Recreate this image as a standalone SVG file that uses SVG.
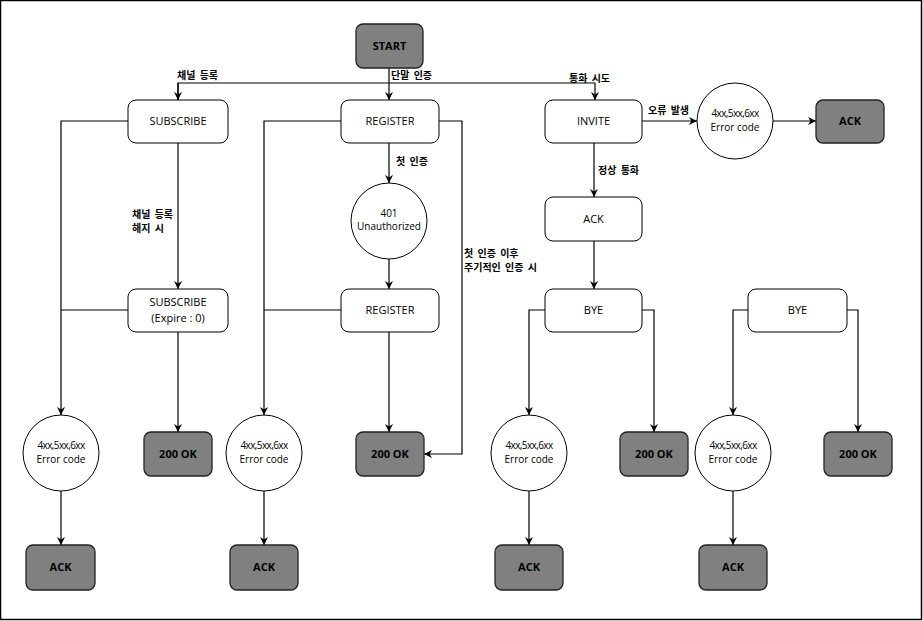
<svg xmlns="http://www.w3.org/2000/svg" width="923" height="621" viewBox="0 0 923 621">
<style>
.w{fill:#fff;stroke:#000;stroke-width:1}
.g{fill:#808080;stroke:#222;stroke-width:1.3}
.c{fill:#fff;stroke:#000;stroke-width:1}
.t{font-family:"Open Sans","Noto Sans","Noto Sans CJK KR",sans-serif;font-size:11px;fill:#000;text-anchor:middle}
.b{font-weight:bold}
.s{font-family:"Open Sans","Noto Sans","Noto Sans CJK KR",sans-serif;font-size:10px;fill:#000;text-anchor:middle}
.k{font-family:"Noto Sans CJK KR","Noto Sans",sans-serif;font-size:10px;font-weight:bold;fill:#000;word-spacing:2px}
.l{fill:none;stroke:#000;stroke-width:1.2}
</style>
<defs>
<marker id="a" viewBox="0 0 10 10" refX="10" refY="5" markerWidth="8" markerHeight="8" markerUnits="userSpaceOnUse" orient="auto">
<path d="M0,0 L10,5 L0,10 L3,5 Z" fill="#000"/>
</marker>
</defs>
<rect x="0.5" y="0.5" width="921" height="619" fill="#fff" stroke="#000" stroke-width="1.5"/>
<g id="connectors">
<path class="l" d="M389,68 V100" marker-end="url(#a)"/>
<path class="l" d="M178,100 V83 H595 V100" marker-end="url(#a)"/>
<path class="l" d="M178,83 V100" marker-end="url(#a)"/>
<path class="l" d="M642,121 H697" marker-end="url(#a)"/>
<path class="l" d="M773,121 H816" marker-end="url(#a)"/>
<path class="l" d="M594,143 V197" marker-end="url(#a)"/>
<path class="l" d="M594,241 V289" marker-end="url(#a)"/>
<path class="l" d="M545,310 H529 V415" marker-end="url(#a)"/>
<path class="l" d="M529,491 V545" marker-end="url(#a)"/>
<path class="l" d="M642,310 H654 V432" marker-end="url(#a)"/>
<path class="l" d="M748,310 H733 V415" marker-end="url(#a)"/>
<path class="l" d="M733,491 V545" marker-end="url(#a)"/>
<path class="l" d="M847,310 H858 V432" marker-end="url(#a)"/>
<path class="l" d="M128,121 H61 V415" marker-end="url(#a)"/>
<path class="l" d="M128,310 H61"/>
<path class="l" d="M61,491 V545" marker-end="url(#a)"/>
<path class="l" d="M178,143 V289" marker-end="url(#a)"/>
<path class="l" d="M178,332 V432" marker-end="url(#a)"/>
<path class="l" d="M341,121 H264 V415" marker-end="url(#a)"/>
<path class="l" d="M341,310 H264"/>
<path class="l" d="M264,491 V545" marker-end="url(#a)"/>
<path class="l" d="M439,121 H462 V454 H424" marker-end="url(#a)"/>
<path class="l" d="M389,143 V183" marker-end="url(#a)"/>
<path class="l" d="M389,259 V289" marker-end="url(#a)"/>
<path class="l" d="M389,332 V432" marker-end="url(#a)"/>
<text class="k" x="177" y="79">채널 등록</text>
<text class="k" x="391" y="79">단말 인증</text>
<text class="k" x="569" y="82">통화 시도</text>
<text class="k" x="648" y="114">오류 발생</text>
<text class="k" x="598" y="174">정상 통화</text>
<text class="k" x="132" y="218">채널 등록</text>
<text class="k" x="132" y="232">해지 시</text>
<text class="k" x="396" y="165">첫 인증</text>
<text class="k" x="464" y="257">첫 인증 이후</text>
<text class="k" x="464" y="271">주기적인 인증 시</text>
</g>
<g id="start"><rect class="g" x="356" y="24" width="67" height="44" rx="7"/><text class="t b" x="389.5" y="50">START</text></g>
<g id="subscribe"><rect class="w" x="128" y="100" width="100" height="43" rx="8"/><text class="t" x="178" y="125">SUBSCRIBE</text></g>
<g id="register"><rect class="w" x="341" y="100" width="98" height="43" rx="8"/><text class="t" x="390" y="125">REGISTER</text></g>
<g id="invite"><rect class="w" x="545" y="100" width="97" height="43" rx="8"/><text class="t" x="593.5" y="125">INVITE</text></g>
<g id="err-invite"><circle class="c" cx="735" cy="121" r="38"/><text class="s" x="735" y="117" letter-spacing="-0.6">4xx,5xx,6xx</text><text class="s" x="735" y="131">Error code</text></g>
<g id="ack-invite"><rect class="g" x="816" y="100" width="68" height="43" rx="7"/><text class="t b" x="850" y="125">ACK</text></g>
<g id="unauth"><circle class="c" cx="389" cy="221" r="38"/><text class="s" x="389" y="217" font-size="9">401</text><text class="s" x="389" y="230" font-size="9">Unauthorized</text></g>
<g id="ack-call"><rect class="w" x="545" y="197" width="97" height="44" rx="8"/><text class="t" x="593.5" y="223">ACK</text></g>
<g id="subscribe-expire"><rect class="w" x="128" y="289" width="100" height="43" rx="8"/><text class="t" x="178" y="306">SUBSCRIBE</text><text class="t" x="178" y="322">(Expire : 0)</text></g>
<g id="register2"><rect class="w" x="341" y="289" width="98" height="43" rx="8"/><text class="t" x="390" y="314">REGISTER</text></g>
<g id="bye1"><rect class="w" x="545" y="289" width="97" height="43" rx="8"/><text class="t" x="593.5" y="314">BYE</text></g>
<g id="bye2"><rect class="w" x="748" y="289" width="99" height="43" rx="8"/><text class="t" x="797.5" y="314">BYE</text></g>
<g id="err-sub"><circle class="c" cx="61" cy="453" r="38"/><text class="s" x="61" y="449" letter-spacing="-0.6">4xx,5xx,6xx</text><text class="s" x="61" y="463">Error code</text></g>
<g id="ok-sub"><rect class="g" x="144" y="432" width="68" height="44" rx="7"/><text class="t b" x="178" y="458">200  OK</text></g>
<g id="err-reg"><circle class="c" cx="264" cy="453" r="38"/><text class="s" x="264" y="449" letter-spacing="-0.6">4xx,5xx,6xx</text><text class="s" x="264" y="463">Error code</text></g>
<g id="ok-reg"><rect class="g" x="356" y="432" width="68" height="44" rx="7"/><text class="t b" x="390" y="458">200  OK</text></g>
<g id="err-bye1"><circle class="c" cx="529" cy="453" r="38"/><text class="s" x="529" y="449" letter-spacing="-0.6">4xx,5xx,6xx</text><text class="s" x="529" y="463">Error code</text></g>
<g id="ok-bye1"><rect class="g" x="620" y="432" width="68" height="44" rx="7"/><text class="t b" x="654" y="458">200  OK</text></g>
<g id="err-bye2"><circle class="c" cx="733" cy="453" r="38"/><text class="s" x="733" y="449" letter-spacing="-0.6">4xx,5xx,6xx</text><text class="s" x="733" y="463">Error code</text></g>
<g id="ok-bye2"><rect class="g" x="824" y="432" width="68" height="44" rx="7"/><text class="t b" x="858" y="458">200  OK</text></g>
<g id="ack-sub"><rect class="g" x="26" y="545" width="69" height="45" rx="7"/><text class="t b" x="60.5" y="571">ACK</text></g>
<g id="ack-reg"><rect class="g" x="230" y="545" width="68" height="45" rx="7"/><text class="t b" x="264" y="571">ACK</text></g>
<g id="ack-bye1"><rect class="g" x="495" y="545" width="68" height="45" rx="7"/><text class="t b" x="529" y="571">ACK</text></g>
<g id="ack-bye2"><rect class="g" x="699" y="545" width="68" height="45" rx="7"/><text class="t b" x="733" y="571">ACK</text></g>
</svg>
